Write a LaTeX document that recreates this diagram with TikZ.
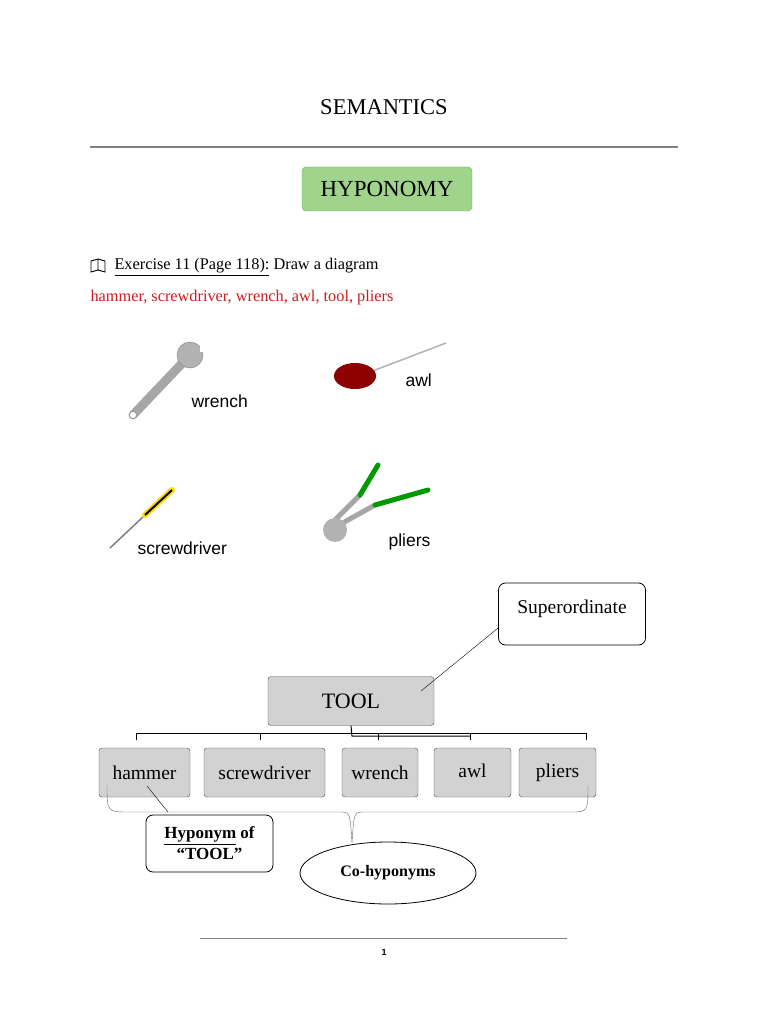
\documentclass[tikz,border=0pt]{standalone}
\usepackage{fontspec}
\setmainfont{Liberation Serif}
\newfontfamily\sans{Liberation Sans}
\usetikzlibrary{shapes.geometric}
\definecolor{hgreen}{RGB}{160,212,140}
\definecolor{boxgray}{RGB}{210,210,210}
\definecolor{redtxt}{RGB}{200,30,30}
\begin{document}
\begin{tikzpicture}[x=1pt,y=-1pt,
  child/.style={draw=black!70,fill=boxgray,rounded corners=3pt,minimum height=49pt,font=\fontsize{19.5}{22}\selectfont},
  callout/.style={draw,thick,rounded corners=7pt,fill=white},
  toollbl/.style={font=\sans\fontsize{17.5}{20}\selectfont,anchor=west}]
\useasboundingbox (0,0) rectangle (768,1024);
\node (title) at (384,107) {\fontsize{22.5}{26}\selectfont SEMANTICS};
\draw[gray,line width=1.5pt] (90,147) coordinate (l1) -- (678,147) coordinate (l2);
\node[draw=green!50!black!60,fill=hgreen,rounded corners=4pt,minimum width=170pt,minimum height=44pt,font=\fontsize{23}{26}\selectfont] (hyp) at (387,189) {HYPONOMY};
% book icon
\draw[line width=0.9pt] (91,261) -- (91,272) -- (98,270) -- (105,272) -- (105,261) -- (98,259) -- cycle (98,259) -- (98,270);
\node[anchor=west,font=\fontsize{16.3}{18}\selectfont] (ex) at (111,267) {\underline{Exercise 11 (Page 118):} Draw a diagram};
\node[anchor=west,font=\fontsize{16.3}{18}\selectfont,text=redtxt] (words) at (87,298) {hammer, screwdriver, wrench, awl, tool, pliers};
% wrench
\draw[line width=9pt,gray!70,line cap=round] (133,415) -- (190,355);
\draw[fill=gray!60,draw=gray] (190,355) circle (13);
\fill[white] (200,340) rectangle (212,352);
\draw[fill=white,draw=gray] (133,415) circle (3.5);
\node[toollbl] (wl) at (188,401) {wrench};
% awl
\draw[gray!60,line width=1.5pt] (370,372) -- (446,343);
\fill[red!55!black] (355,376) ellipse (21 and 13);
\node[toollbl] (al) at (402,380) {awl};
% screwdriver
\draw[gray,line width=1.5pt] (110,548) -- (145,515);
\draw[line width=6pt,yellow!80!orange,line cap=round] (145,515) -- (172,490);
\draw[line width=2pt,black] (145,515) -- (172,490);
\node[toollbl] (sl) at (134,548) {screwdriver};
% pliers
\draw[line width=5pt,gray!70] (330,530) -- (375,505);
\draw[line width=5pt,gray!70] (335,520) -- (360,495);
\draw[line width=5pt,green!60!black,line cap=round] (375,505) -- (428,490);
\draw[line width=5pt,green!60!black,line cap=round] (360,495) -- (378,465);
\fill[gray!60] (335,530) circle (12);
\node[toollbl] (pl) at (385,542) {pliers};
% diagram
\node[callout,minimum width=147pt,minimum height=62pt] (sup) at (572,614) {};
\node[font=\fontsize{19.5}{22}\selectfont] (supt) at (572,609) {Superordinate};
\node[child,minimum width=166pt,font=\fontsize{22}{24}\selectfont] (tool) at (351,701) {TOOL};
\draw (sup.west|-0,628) -- (421,691);
\node[child,minimum width=91pt] (c1) at (144.5,772.5) {hammer};
\node[child,minimum width=121pt] (c2) at (264.5,772.5) {\raisebox{-5pt}{screwdriver}};
\node[child,minimum width=76pt] (c3) at (380,772.5) {wrench};
\node[child,minimum width=77pt] (c4) at (472.5,772.5) {\raisebox{3pt}{awl}};
\node[child,minimum width=77pt] (c5) at (557.5,772.5) {pliers};
\draw (136,740) -- (136,733) -- (586,733) -- (586,740);
\foreach \xx in {260,378,470} \draw (\xx,733) -- (\xx,740);
\draw[line width=1pt] (tool.south) -- (352,736) -- (470,736);
% brace
\draw[gray!80!black] (107,785) .. controls (107,812) .. (130,812) -- (340,812) .. controls (350,812) .. (352,843)
  .. controls (354,812) .. (364,812) -- (570,812) .. controls (588,812) .. (588,785);
\node[callout,minimum width=127pt,minimum height=57pt,align=center,font=\bfseries\fontsize{17}{21}\selectfont] (hn) at (209.5,843.5) {\underline{Hyponym} of\\``TOOL''};
\draw (147,786) -- (168,812);
\node[draw,thick,ellipse,minimum width=176pt,minimum height=62pt,font=\bfseries\fontsize{16}{18}\selectfont] (co) at (388,873) {Co-hyponyms};
\draw[gray,line width=0.5pt] (200,938) -- (567,938);
\node[font=\sans\bfseries\fontsize{9}{10}\selectfont] (pg) at (384,952) {1};
\end{tikzpicture}
\end{document}
